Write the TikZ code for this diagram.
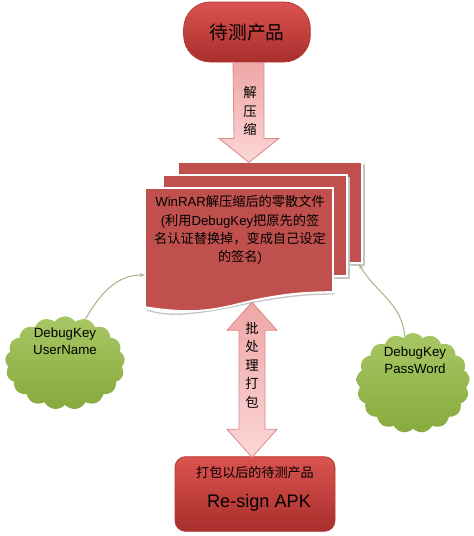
\documentclass[tikz,border=0pt]{standalone}
\usepackage{fontspec}
\setmainfont{Liberation Sans}
\newfontfamily\cjk{Noto Sans CJK SC}
\usetikzlibrary{calc,shapes.symbols,arrows.meta}

\definecolor{boxtop}{HTML}{DA5350}
\definecolor{boxbot}{HTML}{A92E2C}
\definecolor{boxedge}{HTML}{B23B38}
\definecolor{pagered}{HTML}{C0504D}
\definecolor{pinktop}{HTML}{EFA6A6}
\definecolor{pinkbot}{HTML}{FBD6D6}
\definecolor{pinkedge}{HTML}{D98A88}
\definecolor{greentop}{HTML}{A7C764}
\definecolor{greenbot}{HTML}{86AA3D}
\definecolor{linkgray}{HTML}{A8B88C}

\tikzset{
  redbox/.style={draw=boxedge, top color=boxtop, bottom color=boxbot, line width=.6pt},
  page/.style={draw=white, fill=pagered, line width=1.2pt},
  pageshadow/.style={draw=gray!45, line width=1pt},
  bigarrow/.style={draw=pinkedge, top color=pinktop, bottom color=pinkbot, line width=.6pt},
  arrowtext/.style={align=center, font=\cjk\fontsize{10}{14}\selectfont},
  keycloud/.style={cloud, cloud puffs=17, cloud puff arc=110, aspect=1.2, top color=greentop, bottom color=greenbot, draw=none},
  keytext/.style={align=center, font=\fontsize{10}{12.5}\selectfont},
  link/.style={draw=linkgray, line width=.8pt, -{Stealth[length=4pt,width=3pt]}}
}

\begin{document}
\begin{tikzpicture}[x=0.75pt,y=-0.75pt]
\useasboundingbox (0,0) rectangle (474,536);

% product at the top
\node[redbox, rounded corners=20pt, minimum width=95pt, minimum height=45pt,
      font=\cjk\fontsize{14}{16}\selectfont] (prod) at (247,32) {待测产品};

% stacked pages
\draw[pageshadow] (180,265) -- (364,265) -- (364,164);
\draw[page] (178,162) rectangle (362,263);
\draw[pageshadow] (165,278) -- (349,278) -- (349,177);
\draw[page] (163,175) rectangle (347,276);
\draw[pageshadow] (147,310) .. controls (170,318) and (200,314) .. (250,303)
      .. controls (290,295) and (315,294) .. (335,294);
\draw[page] (145,188) -- (333,188) -- (333,292)
      .. controls (305,292) and (285,294) .. (255,300)
      .. controls (220,308) and (200,316) .. (145,307) -- cycle;
\node[align=center, font=\fontsize{9.9}{13.8}\selectfont] (files) at (240,230)
  {WinRAR{\cjk 解压缩后的零散文件}\\({\cjk 利用}DebugKey{\cjk 把原先的签}\\{\cjk 名认证替换掉，变成自己设定}\\{\cjk 的签名})};
\coordinate (frontleft) at (145,275);
\coordinate (backcorner) at (359,264);

% unzip arrow
\draw[bigarrow] ($(prod.south)+(-14,0)$) -- ++(31,0) -- ++(0,76) -- ++(15,0)
      -- ++(-30,24) -- ++(-30,-24) -- ++(15,0) -- cycle;
\node[arrowtext] (unzip) at (250,111) {解\\压\\缩};

% result box
\node[redbox, rounded corners=8pt, minimum width=120pt, minimum height=56pt] (apk) at (255,494) {};
\node[font=\cjk\fontsize{9.8}{12}\selectfont] (apkcn) at (255,473) {打包以后的待测产品};
\node[font=\fontsize{13.6}{15}\selectfont] (apken) at (259,503) {Re-sign APK};

% batch arrow
\draw[bigarrow] ($(apk.north)+(-3,1)$) -- ++(-25,-28) -- ++(12,0) -- ++(0,-99)
      -- ++(-12,0) -- ++(25,-28) -- ++(25,28) -- ++(-12,0) -- ++(0,99)
      -- ++(12,0) -- cycle;
\node[arrowtext, font=\cjk\fontsize{10}{13.9}\selectfont] (batch) at (252,365) {批\\处\\理\\打\\包};

% keys
\node[keycloud, minimum width=90pt, minimum height=70pt] (lcloud) at (65,363) {};
\node[keytext] (lkey) at (65,341) {DebugKey\\UserName};
\node[keycloud, minimum width=85pt, minimum height=75pt] (rcloud) at (413,383) {};
\node[keytext] (rkey) at (415,360) {DebugKey\\PassWord};

\draw[link] (lcloud.65) to[out=60,in=180] (frontleft);
\draw[link] (rcloud.100) to[out=95,in=-60] (backcorner);
\end{tikzpicture}
\end{document}
